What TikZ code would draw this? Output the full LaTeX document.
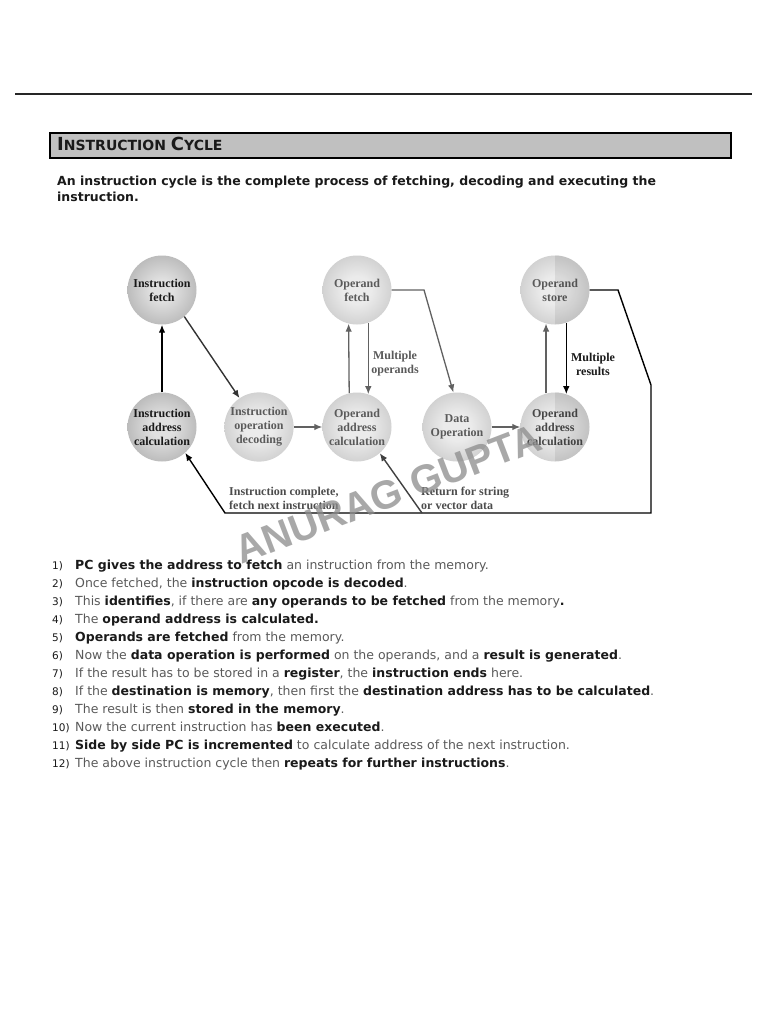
\documentclass[tikz,border=0pt]{standalone}
\usepackage{fontspec}
\setmainfont{DejaVu Sans}
\newfontfamily\tnr{Liberation Serif}
\newfontfamily\wmfont{Liberation Sans}
\usetikzlibrary{arrows.meta}
\definecolor{txtgray}{HTML}{5A5A5A}
\definecolor{txtdark}{HTML}{1A1A1A}
\definecolor{hdrfill}{HTML}{C0C0C0}
\definecolor{ballin}{HTML}{EBEBEB}
\definecolor{ballout}{HTML}{A8A8A8}
\definecolor{dballin}{HTML}{E0E0E0}
\definecolor{dballout}{HTML}{888888}
\pgfdeclareradialshading{lightball}{\pgfpointorigin}{color(0bp)=(ballin); color(10bp)=(ballin); color(50bp)=(ballout)}
\pgfdeclareradialshading{darkball}{\pgfpointorigin}{color(0bp)=(dballin); color(8bp)=(dballin); color(50bp)=(dballout)}
\newcommand{\B}[1]{{\bfseries\color{txtdark}#1}}
\begin{document}
\begin{tikzpicture}[x=1pt,y=-1pt,
  cyc/.style={circle, minimum size=69pt, inner sep=0pt, shading=lightball,
    font=\tnr\bfseries\fontsize{12}{14}\selectfont, align=center, text=txtgray},
  cycd/.style={cyc, shading=darkball, text=txtdark},
  halfdark/.style={fill=black, opacity=0.07},
  garr/.style={draw=black!62, line width=1.3pt, -{Latex[length=8pt,width=6.5pt]}},
  barr/.style={draw=black, line width=1.4pt, -{Latex[length=8pt,width=6.5pt]}},
  lbl/.style={font=\tnr\bfseries\fontsize{12}{14}\selectfont, align=left, inner sep=0pt},
  item/.style={anchor=base west, inner sep=0pt, font=\fontsize{12.5}{14}\selectfont, text=txtgray},
  num/.style={anchor=base west, inner sep=0pt, font=\fontsize{10.5}{12}\selectfont, text=txtdark}
]
\useasboundingbox (0,0) rectangle (768,1024);
\fill[white] (0,0) rectangle (768,1024);
% top rule
\draw[line width=1.8pt, black!85] (15,94) -- (752,94);
% header
\node[draw=black, line width=1.6pt, fill=hdrfill, minimum width=681pt, minimum height=25pt, anchor=north west, inner sep=0pt] (hdr) at (49,132) {};
\node[anchor=base west, inner sep=0pt, font=\bfseries, text=txtdark] (hdrtxt) at (57,151)
  {\fontsize{18}{18}\selectfont I\fontsize{14}{14}\selectfont NSTRUCTION \fontsize{18}{18}\selectfont C\fontsize{14}{14}\selectfont YCLE};
% intro
\node[anchor=base west, inner sep=0pt, font=\bfseries\fontsize{12.5}{14}\selectfont, text=txtdark] (intro1) at (57,186)
  {An instruction cycle is the complete process of fetching, decoding and executing the};
\node[anchor=base west, inner sep=0pt, font=\bfseries\fontsize{12.5}{14}\selectfont, text=txtdark] (intro2) at (57,202)
  {instruction.};

% circles
\node[cycd] (ifetch) at (162,290) {Instruction\\fetch};
\node[cyc] (ofetch) at (357,290) {Operand\\fetch};
\node[cyc] (ostore) at (555,290) {Operand\\store};
\node[cycd] (iac) at (162,427) {Instruction\\address\\calculation};
\node[cyc] (iod) at (259,427) {Instruction\\operation\\decoding};
\node[cyc] (oac1) at (357,427) {Operand\\address\\calculation};
\node[cyc] (dop) at (457,427) {Data\\Operation};
\node[cyc, text=txtdark!80] (oac2) at (555,427) {Operand\\address\\calculation};
% darker right halves of the two right-hand circles
\fill[halfdark] (ostore.north) arc[start angle=90, end angle=-90, radius=34.5pt] -- cycle;
\fill[halfdark] (oac2.north) arc[start angle=90, end angle=-90, radius=34.5pt] -- cycle;

% connectors
\draw[barr] (iac.north) -- (ifetch.south);
\draw[barr, draw=black!80] (ifetch.-50) -- (iod.124);
\draw[garr] (iod.east) -- (oac1.west);
\draw[garr] (oac1.103.6) -- (ofetch.256.4);
\draw[garr] (ofetch.-71) -- (oac1.71);
\coordinate (of1) at (424,290);
\draw[garr] (ofetch.east) -- (of1) -- (dop.96);
\draw[garr] (dop.east) -- (oac2.west);
\draw[garr] (oac2.105) -- (ostore.255);
\draw[barr] (ostore.-71) -- (oac2.71);
\coordinate (r1) at (618,290);
\coordinate (r2) at (651,385);
\coordinate (r3) at (651,513);
\coordinate (r4) at (225,513);
\coordinate (r5) at (422,513);
\draw[barr, line join=miter] (ostore.east) -- (r1) -- (r2) -- (r3) -- (r4) -- (iac.-48);
\draw[barr, draw=black!75] (r5) -- (oac1.-49);

% labels
\node[lbl, text=txtgray, align=center] (mops) at (395,364) {Multiple\\operands};
\node[lbl, text=txtdark, align=center] (mres) at (593,364) {Multiple\\results};
\node[lbl, text=black!70, anchor=west] (icomp) at (229,498) {Instruction complete,\\fetch next instruction};
\node[lbl, text=black!70, anchor=west] (rstr) at (421,498) {Return for string\\or vector data};

% watermark
\node[rotate=21, font=\wmfont\bfseries\fontsize{40}{42}\selectfont, text=black!45, opacity=0.75, inner sep=0pt] (wm) at (388,494) {ANURAG GUPTA};

% list
\node[num] (n1) at (52,569) {1)};
\node[item] (l1) at (75,569) {\B{PC gives the address to fetch} an instruction from the memory.};
\node[num] (n2) at (52,587) {2)};
\node[item] (l2) at (75,587) {Once fetched, the \B{instruction opcode is decoded}.};
\node[num] (n3) at (52,605) {3)};
\node[item] (l3) at (75,605) {This \B{identifies}, if there are \B{any operands to be fetched} from the memory\B{.}};
\node[num] (n4) at (52,623) {4)};
\node[item] (l4) at (75,623) {The \B{operand address is calculated.}};
\node[num] (n5) at (52,641) {5)};
\node[item] (l5) at (75,641) {\B{Operands are fetched} from the memory.};
\node[num] (n6) at (52,659) {6)};
\node[item] (l6) at (75,659) {Now the \B{data operation is performed} on the operands, and a \B{result is generated}.};
\node[num] (n7) at (52,677) {7)};
\node[item] (l7) at (75,677) {If the result has to be stored in a \B{register}, the \B{instruction ends} here.};
\node[num] (n8) at (52,695) {8)};
\node[item] (l8) at (75,695) {If the \B{destination is memory}, then first the \B{destination address has to be calculated}.};
\node[num] (n9) at (52,713) {9)};
\node[item] (l9) at (75,713) {The result is then \B{stored in the memory}.};
\node[num] (n10) at (52,731) {10)};
\node[item] (l10) at (75,731) {Now the current instruction has \B{been executed}.};
\node[num] (n11) at (52,749) {11)};
\node[item] (l11) at (75,749) {\B{Side by side PC is incremented} to calculate address of the next instruction.};
\node[num] (n12) at (52,767) {12)};
\node[item] (l12) at (75,767) {The above instruction cycle then \B{repeats for further instructions}.};
\end{tikzpicture}
\end{document}
